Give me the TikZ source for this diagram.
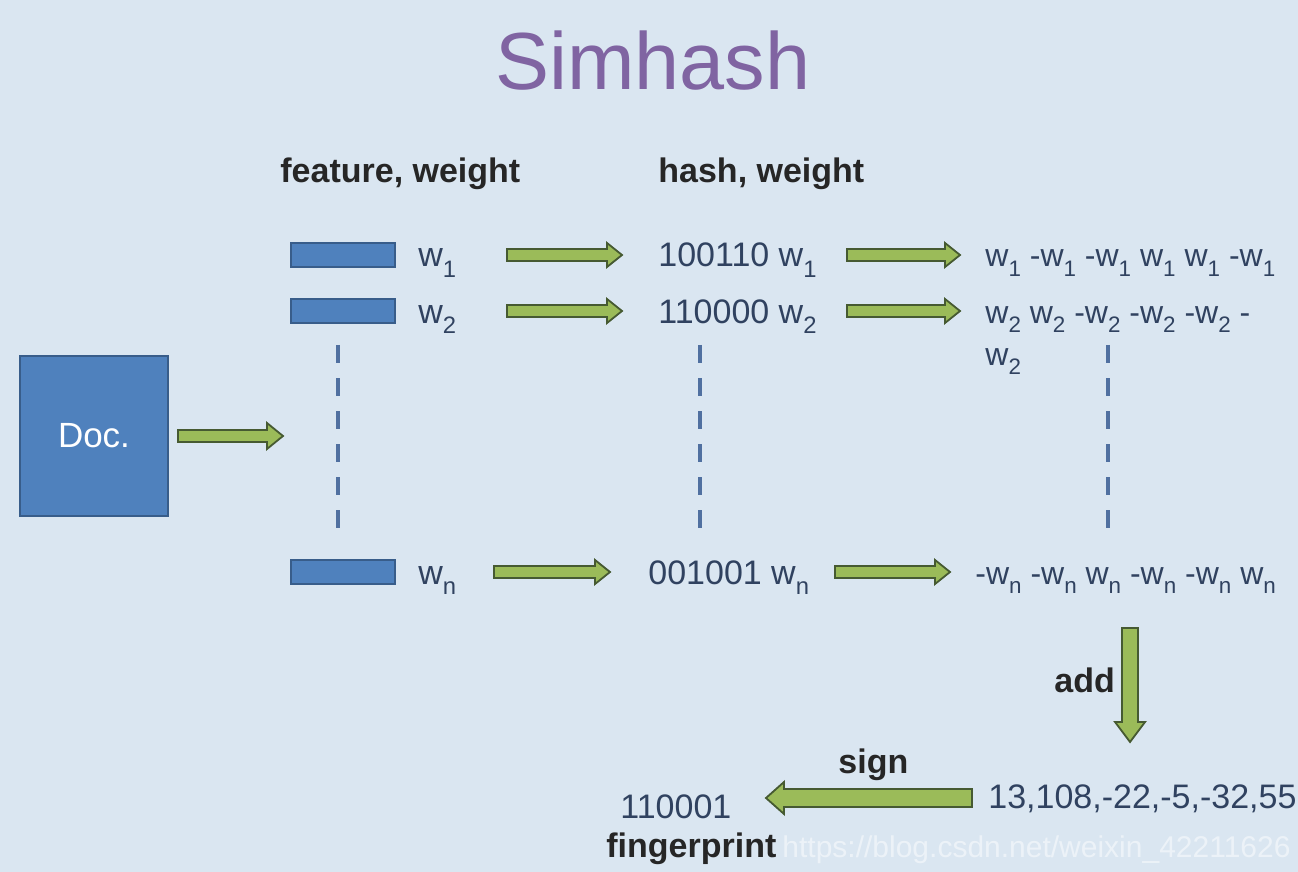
\documentclass[tikz,border=0pt]{standalone}
\usepackage{fontspec}
\setmainfont{Liberation Sans}
\usetikzlibrary{calc}
\definecolor{bgc}{RGB}{218,230,241}
\definecolor{titlec}{RGB}{128,100,162}
\definecolor{txtc}{RGB}{48,66,96}
\definecolor{boxblue}{RGB}{79,129,189}
\definecolor{boxedge}{RGB}{56,93,138}
\definecolor{garrowfill}{RGB}{155,187,89}
\definecolor{garrowedge}{RGB}{70,90,50}
\definecolor{dashc}{RGB}{80,112,160}
\newcommand\ws[1]{w\raisebox{-0.3em}{\fontsize{0.7em}{0.7em}\selectfont #1}}
\newcommand\blockarrow[5]{% start, end, shaft half, head half, head length
  \coordinate (bah) at ($(#2)!#5!(#1)$);
  \draw[garrow] ($(#1)!#3!90:(#2)$) -- ($(bah)!#3!90:(#2)$) -- ($(bah)!#4!90:(#2)$)
    -- (#2) -- ($(bah)!#4!-90:(#2)$) -- ($(bah)!#3!-90:(#2)$) -- ($(#1)!#3!-90:(#2)$) -- cycle;}
\begin{document}
\begin{tikzpicture}[x=0.5pt,y=-0.5pt,
  garrow/.style={fill=garrowfill,draw=garrowedge,line width=0.9pt,line join=miter},
  txt/.style={text=txtc,font=\fontsize{17}{20}\selectfont,inner sep=0pt,anchor=base west},
  vec/.style={txt,font=\fontsize{16}{20}\selectfont},
  lbl/.style={text=black!85,font=\fontsize{17}{20}\selectfont\bfseries,inner sep=0pt,anchor=base west},
  feat/.style={rectangle,fill=boxblue,draw=boxedge,line width=1pt,minimum width=52pt,minimum height=12pt,inner sep=0pt},
  dashline/.style={draw=dashc,line width=2pt,dash pattern=on 9pt off 7.5pt}]
\fill[bgc] (0,0) rectangle (1298,872);
\useasboundingbox (0,0) rectangle (1298,872);
% title
\node[text=titlec,font=\fontsize{40.5}{44}\selectfont,inner sep=0pt,anchor=base] (title) at (653,90) {Simhash};
\node[lbl] (hfeat) at (280,183) {feature, weight};
\node[lbl] (hhash) at (658,183) {hash, weight};
% doc
\node[rectangle,fill=boxblue,draw=boxedge,line width=1pt,minimum width=74pt,minimum height=80pt,inner sep=0pt,
  text=white,font=\fontsize{17.5}{20}\selectfont] (doc) at (94,436) {Doc.};
% features
\node[feat] (f1) at (343,255) {};
\node[feat] (f2) at (343,311) {};
\node[feat] (fn) at (343,572) {};
\node[txt] (w1) at (418,267) {\ws{1}};
\node[txt] (w2) at (418,323) {\ws{2}};
\node[txt] (wn) at (418,584) {\ws{n}};
% hashes
\node[txt] (h1) at (658,267) {100110 \ws{1}};
\node[txt] (h2) at (658,323) {110000 \ws{2}};
\node[txt] (hn) at (648,584) {001001 \ws{n}};
% vectors
\node[vec] (v1) at (985,267) {\ws{1} -\ws{1} -\ws{1} \ws{1} \ws{1} -\ws{1}};
\node[vec] (v2) at (985,323) {\ws{2} \ws{2} -\ws{2} -\ws{2} -\ws{2} -};
\node[vec] (v2b) at (985,365) {\ws{2}};
\node[vec] (vn) at (975,584) {-\ws{n} -\ws{n} \ws{n} -\ws{n} -\ws{n} \ws{n}};
% sum and fingerprint
\node[txt] (sum) at (988,808) {13,108,-22,-5,-32,55};
\node[txt] (fp) at (620,818) {110001};
\node[text=white,opacity=0.5,font=\fontsize{15}{18}\selectfont,inner sep=0pt,anchor=base west] (wm) at (782,857) {https://blog.csdn.net/weixin\_42211626};
\node[lbl] (fplab) at (606,857) {fingerprint};
\node[lbl] (add) at (1054,692) {add};
\node[lbl] (sign) at (838,773) {sign};
% dashed lines
\coordinate (d1t) at (338,345); \coordinate (d1b) at (338,532);
\coordinate (d2t) at (700,345); \coordinate (d2b) at (700,532);
\coordinate (d3t) at (1108,345); \coordinate (d3b) at (1108,532);
\draw[dashline] (d1t) -- (d1b);
\draw[dashline] (d2t) -- (d2b);
\draw[dashline] (d3t) -- (d3b);
% arrows
\coordinate (a0s) at (178,436); \coordinate (a0e) at (283,436);
\coordinate (a1s) at (507,255); \coordinate (a1e) at (622,255);
\coordinate (a2s) at (507,311); \coordinate (a2e) at (622,311);
\coordinate (a3s) at (494,572); \coordinate (a3e) at (610,572);
\coordinate (b1s) at (847,255); \coordinate (b1e) at (960,255);
\coordinate (b2s) at (847,311); \coordinate (b2e) at (960,311);
\coordinate (b3s) at (835,572); \coordinate (b3e) at (950,572);
\coordinate (cs) at (1130,628); \coordinate (ce) at (1130,742);
\coordinate (ss) at (972,798); \coordinate (se) at (766,798);
\blockarrow{a0s}{a0e}{3pt}{6.5pt}{8pt}
\blockarrow{a1s}{a1e}{3pt}{6pt}{7.5pt}
\blockarrow{a2s}{a2e}{3pt}{6pt}{7.5pt}
\blockarrow{a3s}{a3e}{3pt}{6pt}{7.5pt}
\blockarrow{b1s}{b1e}{3pt}{6pt}{7.5pt}
\blockarrow{b2s}{b2e}{3pt}{6pt}{7.5pt}
\blockarrow{b3s}{b3e}{3pt}{6pt}{7.5pt}
\blockarrow{cs}{ce}{4pt}{7.5pt}{10pt}
\blockarrow{ss}{se}{4.5pt}{8pt}{9pt}
\end{tikzpicture}
\end{document}
